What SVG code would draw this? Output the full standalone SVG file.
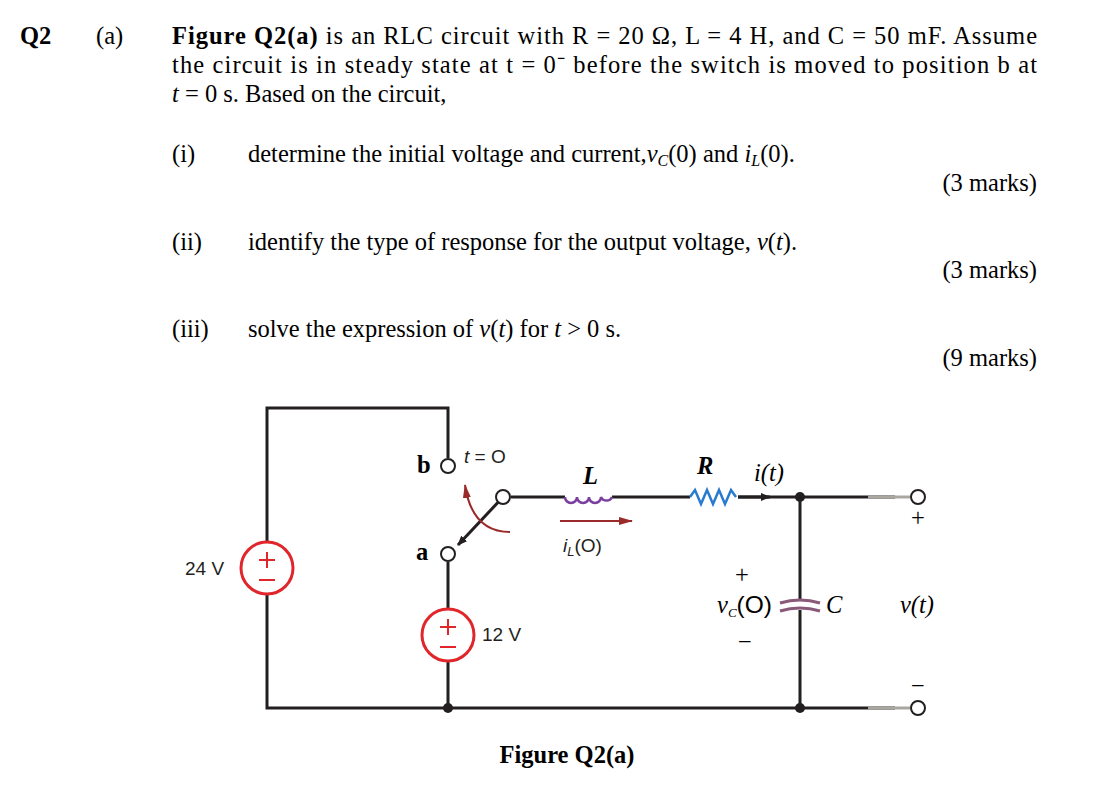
<svg xmlns="http://www.w3.org/2000/svg" width="1116" height="794" viewBox="0 0 1116 794">
<style>
.t{font-family:"Liberation Serif",serif;font-size:24.5px;fill:#000}
.b{font-weight:bold}
.i{font-style:italic}
.w{stroke:#231f20;stroke-width:3;fill:none}
.g{stroke:#a8a8a0;stroke-width:3;fill:none}
.src{stroke:#e0262b;stroke-width:3;fill:#fff}
.s{font-family:"Liberation Sans",sans-serif;font-size:19px;fill:#231f20}
.term{fill:#fff;stroke:#231f20;stroke-width:2}
</style>
<defs>
<marker id="ah" markerWidth="10" markerHeight="8" refX="9" refY="4" orient="auto" markerUnits="userSpaceOnUse"><path d="M0,0L10,4L0,8z" fill="#231f20"/></marker>
<marker id="ahr" markerWidth="14" markerHeight="8" refX="13" refY="4" orient="auto" markerUnits="userSpaceOnUse"><path d="M0,0L14,4L0,8z" fill="#9b2a2a"/></marker>
</defs>
<rect width="1116" height="794" fill="#fff"/>
<text class="t b" x="20" y="44">Q2</text>
<text class="t" x="96" y="44">(a)</text>
<text class="t" x="172" y="44" textLength="865" lengthAdjust="spacing"><tspan class="b">Figure Q2(a)</tspan> is an RLC circuit with R = 20  Ω, L = 4 H, and C = 50 mF. Assume</text>
<text class="t" x="172" y="73" textLength="865" lengthAdjust="spacing">the circuit is in steady state at t = 0⁻ before the switch is moved to position b at</text>
<text class="t" x="172" y="102"><tspan class="i">t</tspan> = 0 s. Based on the circuit,</text>
<text class="t" x="172" y="162">(i)</text>
<text class="t" x="248" y="162">determine the initial voltage and current,<tspan class="i">v</tspan><tspan font-size="16" class="i" dy="4">C</tspan><tspan dy="-4">(0) and </tspan><tspan class="i">i</tspan><tspan font-size="16" class="i" dy="4">L</tspan><tspan dy="-4">(0).</tspan></text>
<text class="t" x="1037" y="191" text-anchor="end">(3 marks)</text>
<text class="t" x="172" y="250">(ii)</text>
<text class="t" x="248" y="250">identify the type of response for the output voltage, <tspan class="i">v</tspan>(<tspan class="i">t</tspan>).</text>
<text class="t" x="1037" y="278" text-anchor="end">(3 marks)</text>
<text class="t" x="172" y="337">(iii)</text>
<text class="t" x="248" y="337">solve the expression of <tspan class="i">v</tspan>(<tspan class="i">t</tspan>) for <tspan class="i">t</tspan> &gt; 0 s.</text>
<text class="t" x="1037" y="366" text-anchor="end">(9 marks)</text>

<g id="connectors">
<path class="w" d="M267,542V408H448V458"/>
<path class="w" d="M267,594V708H895"/>
<path class="w" d="M448,562V609M448,661V708"/>
<path class="w" d="M511,497H565M612,497H690M738,497H895M800,497V600M800,610V708"/>
<path class="g" d="M868,497H910M868,708H910"/>
<path d="M565,497a6,6 0 0 0 12,0a6,6 0 0 0 12,0a6,6 0 0 0 12,0a6,6 0 0 0 11,0" stroke="#7b3fa0" stroke-width="2.5" fill="none"/>
<path d="M690,497l5,-7l6,14l6,-14l6,14l6,-14l6,14l6,-14l5,7" stroke="#2a7bd0" stroke-width="2.5" fill="none"/>
<path class="w" d="M738,497H770" marker-end="url(#ah)"/>
<path class="w" d="M503,497L458,545" stroke-width="2.5" marker-end="url(#ah)"/>
<path d="M510,532Q472,532 465,485" stroke="#9b2a2a" stroke-width="2" fill="none" marker-end="url(#ahr)"/>
<path d="M560,521H632" stroke="#9b2a2a" stroke-width="2" marker-end="url(#ahr)"/>
<path d="M780,603Q800,597 820,603M780,611Q800,605 820,611" stroke="#8a5a7a" stroke-width="3" fill="none"/>
<circle cx="448" cy="708" r="5" fill="#231f20"/>
<circle cx="800" cy="497" r="5" fill="#231f20"/>
<circle cx="800" cy="708" r="5" fill="#231f20"/>
</g>
<g id="term-b"><circle class="term" cx="448" cy="466" r="7"/><text x="417" y="473" class="t b" font-size="21">b</text></g>
<g id="term-a"><circle class="term" cx="448" cy="554" r="7"/><text x="416" y="560" class="t b" font-size="21">a</text></g>
<g id="pivot"><circle class="term" cx="503" cy="497" r="7"/><text x="464" y="463" class="s" font-size="20"><tspan font-style="italic">t</tspan> = O</text></g>
<g id="v24"><circle class="src" cx="267" cy="568" r="26"/><path d="M259,560h16M267,552v16M259,580h16" stroke="#e0262b" stroke-width="2"/><text x="185" y="575" class="s">24 V</text></g>
<g id="v12"><circle class="src" cx="448" cy="635" r="26"/><path d="M440,627h16M448,619v16M440,647h16" stroke="#e0262b" stroke-width="2"/><text x="482" y="641" class="s">12 V</text></g>
<g id="L"><text x="583" y="484" class="t i b" font-size="19">L</text><text x="563" y="552" class="s" font-size="20"><tspan font-style="italic">i</tspan><tspan font-size="13" font-style="italic" dy="4">L</tspan><tspan dy="-4">(O)</tspan></text></g>
<g id="R"><text x="697" y="474" class="t i b" font-size="19">R</text><text x="754" y="481" class="t i" font-size="18">i(t)</text></g>
<g id="C"><text x="735" y="583" class="t" font-size="20">+</text><text x="717" y="613" class="t" font-size="19"><tspan class="i">v</tspan><tspan font-size="13" class="i" dy="4">C</tspan><tspan dy="-4" font-family="Liberation Sans">(O)</tspan></text><text x="738" y="650" class="t" font-size="20">−</text><text x="826" y="613" class="t i" font-size="20">C</text></g>
<g id="out"><circle class="term" cx="918" cy="497" r="7" stroke="#999"/><circle class="term" cx="918" cy="708" r="7" stroke="#999"/><text x="911" y="526" class="t" font-size="20">+</text><text x="900" y="613" class="t i" font-size="18">v(t)</text><text x="911" y="694" class="t" font-size="20">−</text></g>
<text class="t b" x="567" y="763" text-anchor="middle">Figure Q2(a)</text>
</svg>
